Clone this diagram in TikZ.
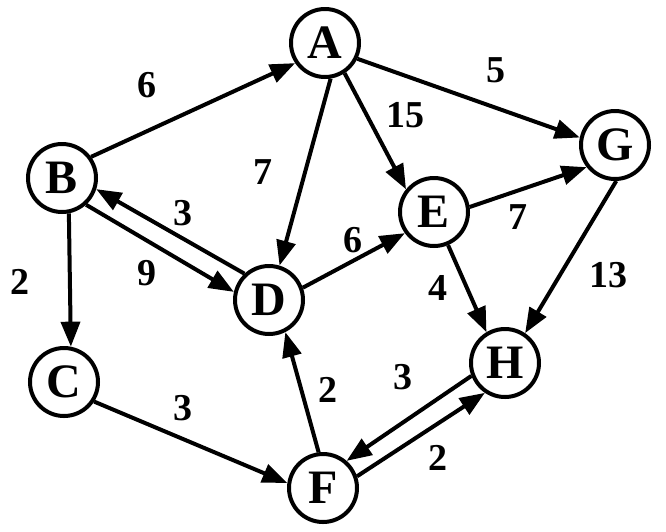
\documentclass[tikz,border=0pt]{standalone}
\usepackage{fontspec}
\setmainfont{Liberation Serif}
\usetikzlibrary{arrows.meta}
\begin{document}
\begin{tikzpicture}[x=1pt,y=-1pt,
  vert/.style={circle,draw,line width=4pt,minimum size=68pt,inner sep=0pt,
    font=\fontsize{48}{48}\selectfont\bfseries},
  edge/.style={line width=4pt,-{Triangle[length=25pt,width=19pt]}},
  lbl/.style={font=\fontsize{38}{38}\selectfont\bfseries,inner sep=0pt}]
\useasboundingbox (0,0) rectangle (666,531);
\node[vert] (A) at (325,43) {A};
\node[vert] (B) at (62,178) {B};
\node[vert] (C) at (64,382) {C};
\node[vert] (D) at (269,300) {D};
\node[vert] (E) at (434,212) {E};
\node[vert] (G) at (615,145) {G};
\node[vert] (H) at (505,363) {H};
\node[vert] (F) at (323,488) {F};
\draw[edge] (B.36) -- (A.-146) node[lbl,at={(147,85)}] {6};
\draw[edge] (A.-81) -- (D.73) node[lbl,at={(263,172)}] {7};
\draw[edge] (A.-57) -- (E.141) node[lbl,at={(405,115)}] {15};
\draw[edge] (A.-26) -- (G.168) node[lbl,at={(496,70)}] {5};
\draw[edge] (D.133) -- (B.-18) node[lbl,at={(183,213)}] {3};
\draw[edge] (B.-48) -- (D.167) node[lbl,at={(147,273)}] {9};
\draw[edge] (B.-79) -- (C.79) node[lbl,at={(20,282)}] {2};
\draw[edge] (D.20) -- (E.-144) node[lbl,at={(353,240)}] {6};
\draw[edge] (E.8) -- (G.-142) node[lbl,at={(518,217)}] {7};
\draw[edge] (E.-67) -- (H.121) node[lbl,at={(438,288)}] {4};
\draw[edge] (G.-88) -- (H.56) node[lbl,at={(608,275)}] {13};
\draw[edge] (C.-33) -- (F.172) node[lbl,at={(183,408)}] {3};
\draw[edge] (F.97) -- (D.-63) node[lbl,at={(328,390)}] {2};
\draw[edge] (H.201) -- (F.49) node[lbl,at={(403,377)}] {3};
\draw[edge] (F.19) -- (H.-124) node[lbl,at={(438,458)}] {2};
\end{tikzpicture}
\end{document}
